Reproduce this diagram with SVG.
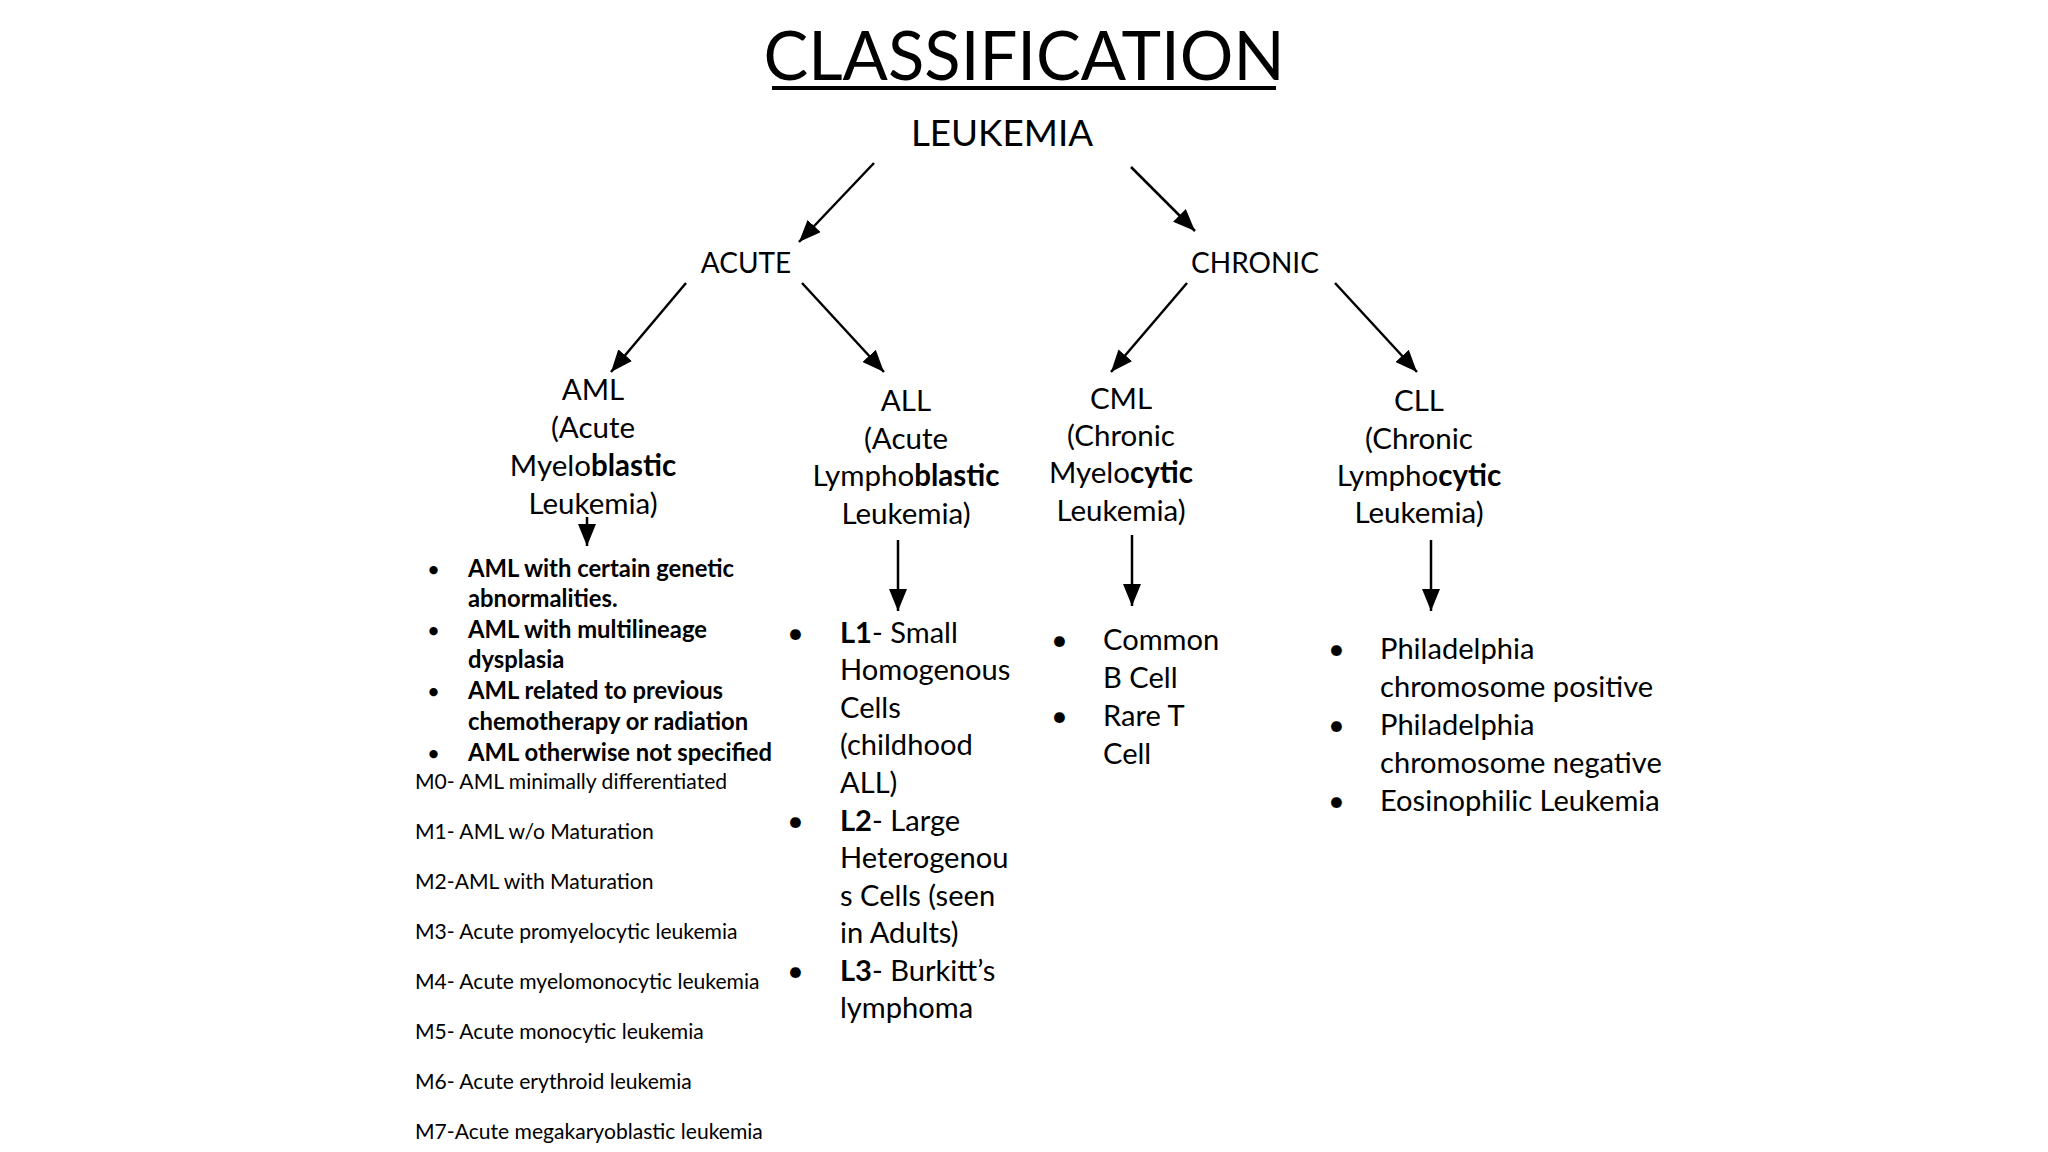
<svg xmlns="http://www.w3.org/2000/svg" width="2048" height="1152" viewBox="0 0 2048 1152">
<style>
text{font-family:Lato,"Open Sans",sans-serif;fill:#000}
.t{font-size:67px}
.l1{font-size:36.8px}
.l2{font-size:28px}
.n{font-size:29.5px;text-anchor:middle}
.b{font-weight:bold}
.am{font-size:23.8px;font-weight:bold}
.ab{font-size:19px;font-weight:bold}
.m{font-size:21.1px}
.li{font-size:29.1px}
.c{stroke:#000;stroke-width:2.5;fill:none}
</style>
<defs>
<marker id="a" viewBox="0 0 22 18" refX="22" refY="9" markerWidth="22" markerHeight="18" markerUnits="userSpaceOnUse" orient="auto">
<path d="M0,0 L22,9 L0,18 z" fill="#000"/>
</marker>
</defs>
<rect width="2048" height="1152" fill="#fff"/>
<g id="title">
<text class="t" x="1024" y="80" text-anchor="middle">CLASSIFICATION</text>
<rect x="772" y="86" width="504" height="4" fill="#000"/>
</g>
<g id="leukemia"><text class="l1" x="1002" y="146" text-anchor="middle">LEUKEMIA</text></g>
<g id="acute"><text class="l2" x="746" y="273" text-anchor="middle">ACUTE</text></g>
<g id="chronic"><text class="l2" x="1255" y="273" text-anchor="middle">CHRONIC</text></g>
<g id="aml">
<text class="n" x="593" y="400">AML</text>
<text class="n" x="593" y="438">(Acute</text>
<text class="n" x="593" y="476">Myelo<tspan class="b">blastic</tspan></text>
<text class="n" x="593" y="514">Leukemia)</text>
</g>
<g id="all">
<text class="n" x="906" y="411">ALL</text>
<text class="n" x="906" y="449">(Acute</text>
<text class="n" x="906" y="486">Lympho<tspan class="b">blastic</tspan></text>
<text class="n" x="906" y="524">Leukemia)</text>
</g>
<g id="cml">
<text class="n" x="1121" y="409">CML</text>
<text class="n" x="1121" y="446">(Chronic</text>
<text class="n" x="1121" y="483">Myelo<tspan class="b">cytic</tspan></text>
<text class="n" x="1121" y="521">Leukemia)</text>
</g>
<g id="cll">
<text class="n" x="1419" y="411">CLL</text>
<text class="n" x="1419" y="449">(Chronic</text>
<text class="n" x="1419" y="486">Lympho<tspan class="b">cytic</tspan></text>
<text class="n" x="1419" y="523">Leukemia)</text>
</g>
<g id="aml-types">
<text class="ab" x="428" y="576">•</text><text class="am" x="468" y="577">AML with certain genetic</text>
<text class="am" x="468" y="607">abnormalities.</text>
<text class="ab" x="428" y="637">•</text><text class="am" x="468" y="638">AML with multilineage</text>
<text class="am" x="468" y="668">dysplasia</text>
<text class="ab" x="428" y="698">•</text><text class="am" x="468" y="699">AML related to previous</text>
<text class="am" x="468" y="730">chemotherapy or radiation</text>
<text class="ab" x="428" y="760">•</text><text class="am" x="468" y="761">AML otherwise not specified</text>
</g>
<g id="aml-fab">
<text class="m" x="415" y="789">M0- AML minimally differentiated</text>
<text class="m" x="415" y="839">M1- AML w/o Maturation</text>
<text class="m" x="415" y="889">M2-AML with Maturation</text>
<text class="m" x="415" y="939">M3- Acute promyelocytic leukemia</text>
<text class="m" x="415" y="989">M4- Acute myelomonocytic leukemia</text>
<text class="m" x="415" y="1039">M5- Acute monocytic leukemia</text>
<text class="m" x="415" y="1089">M6- Acute erythroid leukemia</text>
<text class="m" x="415" y="1139">M7-Acute megakaryoblastic leukemia</text>
</g>
<g id="all-types">
<text class="li" x="787" y="643">•</text><text class="li" x="840" y="643"><tspan class="b">L1</tspan>- Small</text>
<text class="li" x="840" y="680">Homogenous</text>
<text class="li" x="840" y="718">Cells</text>
<text class="li" x="840" y="755">(childhood</text>
<text class="li" x="840" y="793">ALL)</text>
<text class="li" x="787" y="831">•</text><text class="li" x="840" y="831"><tspan class="b">L2</tspan>- Large</text>
<text class="li" x="840" y="868">Heterogenou</text>
<text class="li" x="840" y="906">s Cells (seen</text>
<text class="li" x="840" y="943">in Adults)</text>
<text class="li" x="787" y="981">•</text><text class="li" x="840" y="981"><tspan class="b">L3</tspan>- Burkitt’s</text>
<text class="li" x="840" y="1018">lymphoma</text>
</g>
<g id="cml-types">
<text class="li" x="1051" y="650">•</text><text class="li" x="1103" y="650">Common</text>
<text class="li" x="1103" y="688">B Cell</text>
<text class="li" x="1051" y="726">•</text><text class="li" x="1103" y="726">Rare T</text>
<text class="li" x="1103" y="764">Cell</text>
</g>
<g id="cll-types">
<text class="li" x="1328" y="659">•</text><text class="li" x="1380" y="659">Philadelphia</text>
<text class="li" x="1380" y="697">chromosome positive</text>
<text class="li" x="1328" y="735">•</text><text class="li" x="1380" y="735">Philadelphia</text>
<text class="li" x="1380" y="773">chromosome negative</text>
<text class="li" x="1328" y="811">•</text><text class="li" x="1380" y="811">Eosinophilic Leukemia</text>
</g>
<g id="connectors">
<line class="c" x1="874" y1="163" x2="799" y2="242" marker-end="url(#a)"/>
<line class="c" x1="1131" y1="167" x2="1195" y2="231" marker-end="url(#a)"/>
<line class="c" x1="686" y1="283" x2="611" y2="372" marker-end="url(#a)"/>
<line class="c" x1="802" y1="283" x2="884" y2="372" marker-end="url(#a)"/>
<line class="c" x1="1187" y1="283" x2="1111" y2="372" marker-end="url(#a)"/>
<line class="c" x1="1335" y1="283" x2="1417" y2="372" marker-end="url(#a)"/>
<line class="c" x1="587" y1="517" x2="587" y2="546" marker-end="url(#a)"/>
<line class="c" x1="898" y1="540" x2="898" y2="611" marker-end="url(#a)"/>
<line class="c" x1="1132" y1="535" x2="1132" y2="606" marker-end="url(#a)"/>
<line class="c" x1="1431" y1="540" x2="1431" y2="611" marker-end="url(#a)"/>
</g>
</svg>
